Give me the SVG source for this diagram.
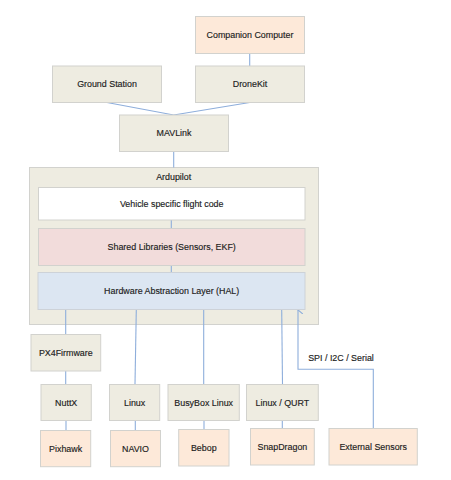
<svg xmlns="http://www.w3.org/2000/svg" width="451" height="480" viewBox="0 0 451 480">
<defs>
<style>
.g{fill:#eeece1;stroke:#d2d2ce;stroke-width:1}
.p{fill:#fde9d9;stroke:#d2d2ce;stroke-width:1}
.w{fill:#ffffff;stroke:#d2d2ce;stroke-width:1}
.r{fill:#f2dcdb;stroke:#d2d2ce;stroke-width:1}
.b{fill:#dce6f2;stroke:#cdd2d8;stroke-width:1}
text{font-family:"Liberation Sans",Arial,sans-serif;font-size:8.9px;fill:#1c1c1c;text-anchor:middle;dominant-baseline:central;stroke:#1c1c1c;stroke-width:0.15}
.c line,.c path,.c polyline{stroke:#8eaedb;stroke-width:1.1;fill:none}
</style>
<marker id="ar" viewBox="0 0 10 10" refX="5" refY="1" markerWidth="8" markerHeight="8" orient="auto-start-reverse" markerUnits="userSpaceOnUse">
<path d="M0,7 L5,1 L10,7" fill="none" stroke="#8eaedb" stroke-width="1.3"/>
</marker>
</defs>
<rect width="451" height="480" fill="#ffffff"/>
<g id="ardupilot">
<rect class="g" x="29.5" y="167.5" width="289" height="157"/>
<text x="173.7" y="176.5">Ardupilot</text>
</g>
<g class="c" id="connectors">
<line x1="249.7" y1="53" x2="249.7" y2="66"/>
<polyline points="107,102.5 173.7,115 249.7,102.5"/>
<line x1="173.7" y1="151" x2="173.7" y2="167.5"/>
<line x1="171.3" y1="220" x2="171.3" y2="228.5"/>
<line x1="171.3" y1="265.5" x2="171.3" y2="272.5"/>
<line x1="65.7" y1="309.5" x2="65.7" y2="334.5"/>
<line x1="65.7" y1="371" x2="65.7" y2="384.5"/>
<line x1="66" y1="420.5" x2="66" y2="430.5"/>
<line x1="136.3" y1="309.5" x2="135" y2="384.5"/>
<line x1="135.3" y1="420.5" x2="135.3" y2="430.5"/>
<line x1="203.7" y1="309.5" x2="203.7" y2="384.5"/>
<line x1="204" y1="420.5" x2="204" y2="429.5"/>
<line x1="281.7" y1="309.5" x2="282.5" y2="384.5"/>
<line x1="282.3" y1="420.5" x2="282.3" y2="428.5"/>
<polyline points="373.3,428.5 373.3,369.3 298,369.3 298,310" marker-end="url(#ar)"/>
<text x="341" y="358.3">SPI / I2C / Serial</text>
</g>
<g id="companion"><rect class="p" x="195.5" y="16.5" width="109" height="37"/><text x="250" y="35">Companion Computer</text></g>
<g id="groundstation"><rect class="g" x="52.5" y="66" width="109" height="36.5"/><text x="107" y="84.2">Ground Station</text></g>
<g id="dronekit"><rect class="g" x="195.5" y="66" width="109" height="36.5"/><text x="250" y="84.2">DroneKit</text></g>
<g id="mavlink"><rect class="g" x="119.5" y="115" width="109" height="36.5"/><text x="174" y="133.2">MAVLink</text></g>
<g id="vehicle"><rect class="w" x="38.5" y="187.5" width="266.5" height="32.5"/><text x="171.7" y="203.7">Vehicle specific flight code</text></g>
<g id="shared"><rect class="r" x="38.5" y="228.5" width="266.5" height="37"/><text x="171.7" y="247">Shared Libraries (Sensors, EKF)</text></g>
<g id="hal"><rect class="b" x="38" y="272.5" width="267" height="37"/><text x="171.7" y="291">Hardware Abstraction Layer (HAL)</text></g>
<g id="px4"><rect class="g" x="31" y="334.5" width="69.7" height="36.5"/><text x="65.8" y="352.8">PX4Firmware</text></g>
<g id="nuttx"><rect class="g" x="41" y="384.5" width="50.3" height="36"/><text x="66.2" y="402.5">NuttX</text></g>
<g id="pixhawk"><rect class="p" x="40.5" y="430.5" width="50.2" height="36.2"/><text x="65.6" y="448.6">Pixhawk</text></g>
<g id="linux"><rect class="g" x="109.5" y="384.5" width="50.2" height="36"/><text x="134.6" y="402.5">Linux</text></g>
<g id="navio"><rect class="p" x="110.5" y="430.5" width="50" height="36.2"/><text x="135.5" y="448.6">NAVIO</text></g>
<g id="busybox"><rect class="g" x="168" y="384.5" width="71.3" height="36"/><text x="203.7" y="402.5">BusyBox Linux</text></g>
<g id="bebop"><rect class="p" x="178.7" y="429.5" width="50.3" height="36.5"/><text x="203.8" y="447.8">Bebop</text></g>
<g id="linuxqurt"><rect class="g" x="246.5" y="384.5" width="71.8" height="36"/><text x="282.4" y="402.5">Linux / QURT</text></g>
<g id="snapdragon"><rect class="p" x="250.5" y="428.5" width="63.8" height="36.5"/><text x="282.4" y="446.8">SnapDragon</text></g>
<g id="external"><rect class="p" x="329" y="428.5" width="88.3" height="36.5"/><text x="373.2" y="446.8">External Sensors</text></g>
</svg>
